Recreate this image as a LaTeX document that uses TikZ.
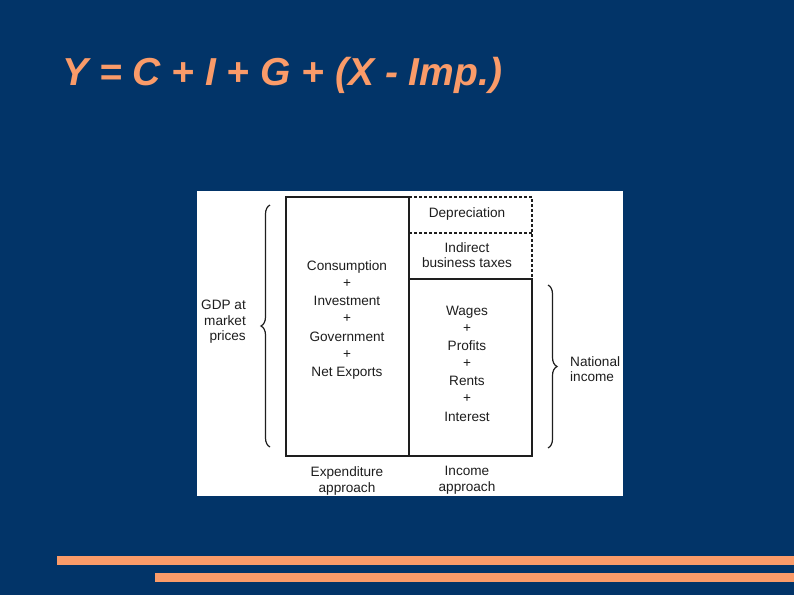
\documentclass[tikz,border=0pt]{standalone}
\usepackage{fontspec}
\setmainfont{Liberation Sans}
\usetikzlibrary{positioning,decorations.pathreplacing}
\definecolor{slidebg}{RGB}{2,52,104}
\definecolor{slideorange}{RGB}{250,155,105}
\definecolor{inkgray}{RGB}{30,30,30}
\tikzset{
  boxline/.style={line width=1.4pt,inkgray},
  dashline/.style={line width=1.1pt,inkgray,dash pattern=on 3pt off 2pt},
  item/.style={font=\fontsize{13.6}{15.5}\selectfont,inkgray,inner sep=0pt},
  bracetip/.style={decorate,decoration={brace,amplitude=9pt},line width=1.2pt,inkgray}
}
\begin{document}
\begin{tikzpicture}[x=1pt,y=-1pt]
% Slide
\fill[slidebg] (0,0) rectangle (794,595);
\useasboundingbox (0,0) rectangle (794,595);
\node[anchor=base west,inner sep=0pt,slideorange,font=\fontsize{39}{41}\selectfont\bfseries\itshape] (title) at (62,85) {Y = C + I + G + (X - Imp.)};
\fill[slideorange] (57,556) rectangle (794,565);
\fill[slideorange] (155,573) rectangle (794,582);
% Picture
\fill[white] (197,191) rectangle (623,496);
% Boxes
\draw[boxline] (286,197) rectangle (409,456);
\draw[boxline] (409,279) rectangle (532,456);
\draw[dashline] (409,197) -- (532,197) -- (532,279);
\draw[dashline] (409,233) -- (532,233);
% Expenditure side
\node[item] (cons) at (347,267) {Consumption};
\node[item] (p1) at (347,284) {+};
\node[item] (inv) at (347,301) {Investment};
\node[item] (p2) at (347,319) {+};
\node[item] (gov) at (347,337) {Government};
\node[item] (p3) at (347,355) {+};
\node[item] (nx) at (347,373) {Net Exports};
% Income side
\node[item] (dep) at (467,214) {Depreciation};
\node[item,align=center] (ibt) at (467,255) {Indirect\\business taxes};
\node[item] (wag) at (467,312) {Wages};
\node[item] (p4) at (467,329) {+};
\node[item] (prof) at (467,346) {Profits};
\node[item] (p5) at (467,364) {+};
\node[item] (rent) at (467,381) {Rents};
\node[item] (p6) at (467,399) {+};
\node[item] (intr) at (467,417) {Interest};
% Braces
\coordinate (gtop) at (270,205);
\coordinate (gbot) at (270,447);
\draw[bracetip] (gbot) -- (gtop);
\node[item,align=right,anchor=east] (gdp) at (246,322) {GDP at\\market\\prices};
\coordinate (ntop) at (548,285);
\coordinate (nbot) at (548,448);
\draw[bracetip] (ntop) -- (nbot);
\node[item,align=left,anchor=west] (ni) at (570,369) {National\\income};
% Captions
\node[item,align=center] (expa) at (347,481) {Expenditure\\approach};
\node[item,align=center] (inca) at (467,480) {Income\\approach};
\end{tikzpicture}
\end{document}
